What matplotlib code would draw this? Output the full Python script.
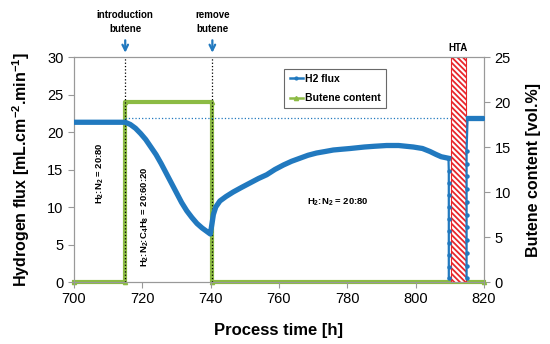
import numpy as np
import matplotlib.pyplot as plt

plt.rcParams['font.family'] = ['Liberation Sans', 'DejaVu Sans']
plt.rcParams['mathtext.fontset'] = 'custom'
plt.rcParams['mathtext.rm'] = 'Liberation Sans:bold'
plt.rcParams['mathtext.it'] = 'Liberation Sans:bold:italic'
plt.rcParams['mathtext.bf'] = 'Liberation Sans:bold'
plt.rcParams['mathtext.default'] = 'rm'
plt.rcParams['hatch.linewidth'] = 1.3

# hydrogen flux [mL.cm-2.min-1] vs process time [h]
flux_t = [700, 705, 710, 715, 716.5, 718, 719.5, 721, 722.5, 724, 725.5, 727, 728.5,
          730, 731.5, 733, 734.5, 736, 737.5, 739, 739.9,
          740.4, 740.8, 741.5, 742.7, 744.5, 746.6, 749, 751.5, 754, 756.4, 758.8, 761.3,
          763.7, 766.1, 768.5, 771, 773.5, 775.9, 778.3, 780.8, 785, 788, 791.5, 795,
          799.3, 802, 804.2, 806, 807.5, 809.6]
flux_v = [21.3, 21.3, 21.3, 21.3, 21.0, 20.5, 19.8, 19.0, 18.0, 17.0, 15.8, 14.5, 13.2,
          11.9, 10.6, 9.5, 8.6, 7.8, 7.2, 6.7, 6.4,
          7.8, 9.0, 10.0, 10.8, 11.4, 12.0, 12.6, 13.2, 13.8, 14.3, 15.0, 15.6,
          16.1, 16.5, 16.9, 17.2, 17.4, 17.6, 17.7, 17.8, 18.0, 18.1, 18.2, 18.2,
          18.0, 17.8, 17.4, 17.0, 16.7, 16.5]
# flux during and after HTA
drop_t = [809.6, 809.7, 809.7, 809.7, 809.7, 809.7, 809.7, 809.7, 809.7, 809.7, 809.7]
drop_v = [16.5, 14.8, 13.2, 11.6, 10.0, 8.4, 6.8, 5.2, 3.6, 2.0, 0.5]
rise_t = [814.9, 814.9, 814.9, 814.9, 814.9, 814.9, 814.9, 814.9, 814.9, 814.9, 814.9,
          815.2, 816, 817, 818, 819, 820]
rise_v = [0.5, 2.2, 3.9, 5.6, 7.3, 9.0, 10.7, 12.4, 14.1, 15.8, 17.5,
          21.9, 21.9, 21.9, 21.9, 21.9, 21.9]

# butene content [vol.%]
but_t = [700, 715, 715, 740.5, 740.5, 820]
but_v = [0, 0, 20, 20, 0, 0]

events_t = [715, 740.5]
event_labels = ['introduction\nbutene', 'remove\nbutene']
hta_start, hta_end = 810.2, 814.6
ref_flux = 21.9

blue = '#2179bf'
green = '#8cbb44'

fig = plt.figure(figsize=(5.5, 3.44), dpi=100)
ax = fig.add_axes([0.1345, 0.1802, 0.7455, 0.6541])
ax2 = ax.twinx()

ax.set_xlim(700, 820)
ax.set_ylim(0, 30)
ax2.set_ylim(0, 25)
ax.set_xticks(np.arange(700, 821, 20))
ax.set_yticks(np.arange(0, 31, 5))
ax2.set_yticks(np.arange(0, 26, 5))

# HTA hatched zone
ax.axvspan(hta_start, hta_end, facecolor='white', edgecolor='#e8262b',
           hatch='\\\\\\\\\\\\', lw=0.8, zorder=1)
ax.text((hta_start + hta_end) / 2, 30.6, 'HTA', ha='center', va='bottom',
        fontsize=7, fontweight='bold')

# event lines and arrows
for t, lab in zip(events_t, event_labels):
    ax.axvline(t, color='black', ls=':', lw=0.9, zorder=2)
    ax.annotate('', xy=(t, 30.2), xytext=(t, 32.6), xycoords='data',
                arrowprops=dict(arrowstyle='->', color=blue, lw=1.6),
                annotation_clip=False)
    ax.text(t, 33.1, lab, ha='center', va='bottom', fontsize=7,
            fontweight='bold', linespacing=1.5)

ax.plot([715, hta_start], [ref_flux, ref_flux], color=blue, ls=':', lw=0.9, zorder=2)

l2, = ax2.plot(but_t, but_v, color=green, lw=3, marker='^', ms=3,
               label='Butene content', zorder=3, clip_on=False)
l1, = ax.plot(flux_t, flux_v, color=blue, lw=3.8, label='H2 flux', zorder=4)
ax.plot(drop_t, drop_v, color=blue, lw=1.6, marker='o', ms=2.2, zorder=4)
ax.plot(rise_t, rise_v, color=blue, lw=1.6, marker='o', ms=2.2, zorder=4)
ax.plot(rise_t[-6:], rise_v[-6:], color=blue, lw=3.8, zorder=4)

ax.set_zorder(ax2.get_zorder() + 1)
ax.patch.set_visible(False)

# gas composition notes
ax.text(707.8, 14.5, 'H$_2$:N$_2$ = 20:80', rotation=90, ha='center', va='center',
        fontsize=6.8, fontweight='bold')
ax.text(721, 8.7, 'H$_2$:N$_2$:C$_4$H$_8$ = 20:60:20', rotation=90, ha='center',
        va='center', fontsize=6.8, fontweight='bold')
ax.text(777.3, 10.6, 'H$_2$:N$_2$ = 20:80', ha='center', va='center',
        fontsize=6.8, fontweight='bold')

h1 = plt.Line2D([], [], color=blue, lw=1.8, marker='o', ms=2)
h2 = plt.Line2D([], [], color=green, lw=1.8, marker='^', ms=3)
leg = ax.legend(handles=[h1, h2], labels=['H2 flux', 'Butene content'],
                loc='upper left', bbox_to_anchor=(0.513, 0.948),
                fontsize=7.5, frameon=True, fancybox=False, edgecolor='#444444',
                handlelength=1.3, handletextpad=0.2, borderpad=0.5,
                labelspacing=0.9, borderaxespad=0)
for txt in leg.get_texts():
    txt.set_fontweight('bold')
leg.get_frame().set_linewidth(0.8)

for a in (ax, ax2):
    for s in a.spines.values():
        s.set_color('#999999')
        s.set_linewidth(0.8)
    a.tick_params(labelsize=10.5, color='#999999', length=4)

ax.set_xlabel('Process time [h]', fontsize=12, fontweight='bold', labelpad=12)
ax.set_ylabel('Hydrogen flux [mL.cm$^{-2}$.min$^{-1}$]',
              fontsize=11.5, fontweight='bold', labelpad=11)
ax2.set_ylabel('Butene content [vol.%]', fontsize=11.5, fontweight='bold', labelpad=11)

fig.savefig('out.png', dpi=100)
